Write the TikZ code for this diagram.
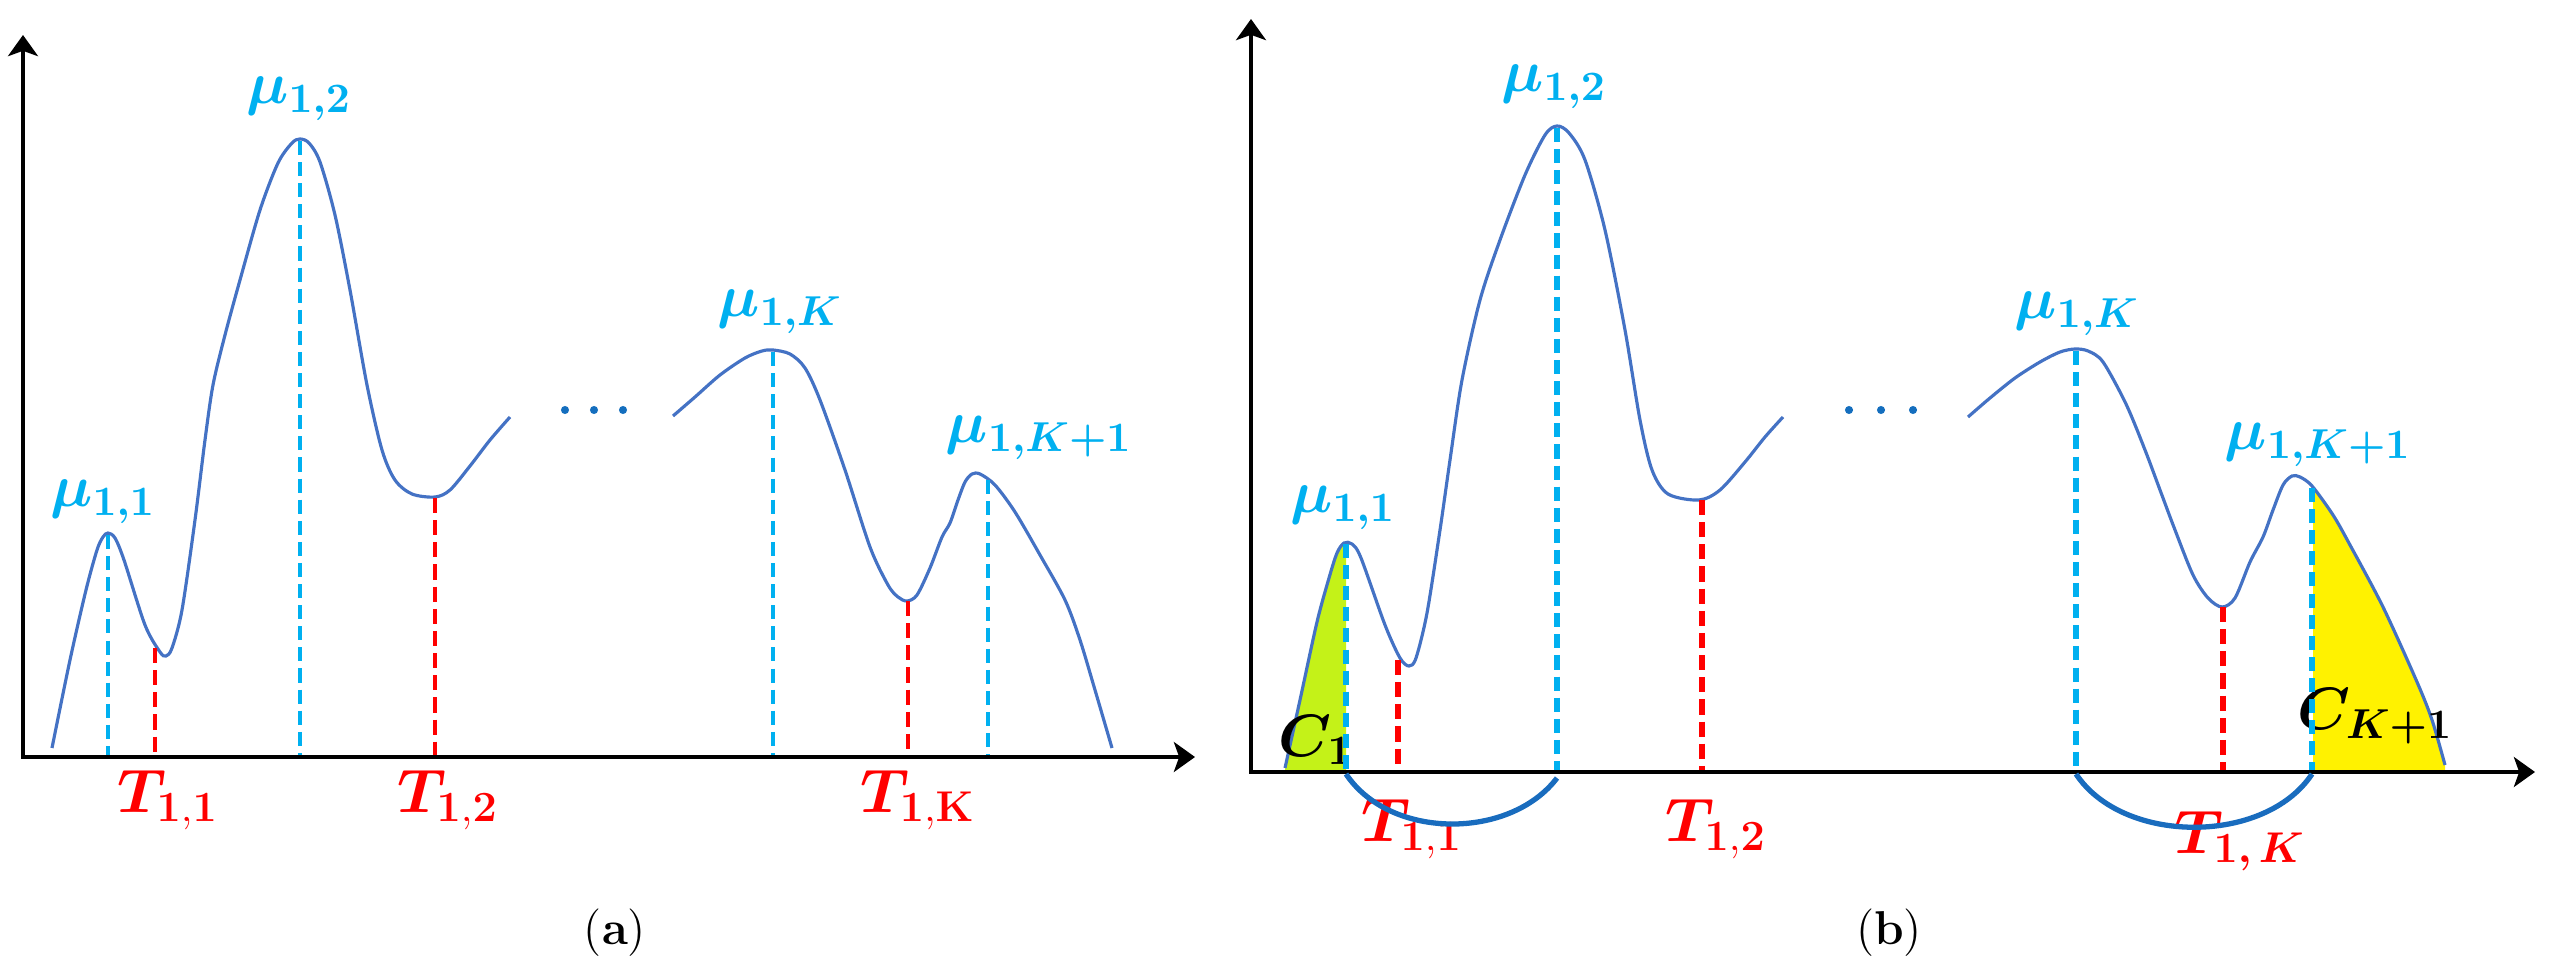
\RequirePackage{fix-cm}
\documentclass[tikz,border=0pt]{standalone}
\usepackage{bm}
\usetikzlibrary{arrows.meta}
\definecolor{curveblue}{RGB}{68,114,196}
\definecolor{mucyan}{RGB}{0,176,240}
\definecolor{tred}{RGB}{255,0,0}
\definecolor{arcblue}{RGB}{25,108,190}
\definecolor{dotblue}{RGB}{20,110,190}
\definecolor{cgreen}{RGB}{196,242,24}
\definecolor{cyellow}{RGB}{255,242,0}
\tikzset{
  axisline/.style={line width=1.4pt, line join=miter,
    {Stealth[length=6pt,width=8.5pt,inset=1.5pt]}-{Stealth[length=6pt,width=8.5pt,inset=1.5pt]}},
  curveline/.style={curveblue, line width=0.9pt},
  mudash/.style={mucyan, line width=1.4pt, dash pattern=on 4pt off 2pt},
  tdash/.style={tred, line width=1.4pt, dash pattern=on 4.3pt off 2pt},
  mulabel/.style={text=mucyan, font=\fontsize{17}{20}\selectfont, inner sep=0pt},
  tlabel/.style={text=tred, font=\fontsize{17.5}{20}\selectfont, inner sep=0pt},
  clabel/.style={text=black, font=\fontsize{17}{20}\selectfont, inner sep=0pt},
  arcline/.style={arcblue, line width=1.5pt},
  caplabel/.style={font=\fontsize{13.5}{15}\selectfont, inner sep=0pt}
}
\def\pAa{plot[smooth,tension=0.5] coordinates {(52,748) (70,660) (86,590) (97,550) (103,537) (108,533) (115,538) (124,560) (145,625) (160,652) (166,656) (172,648) (182,610) (195,520) (205,440) (213,385) (225,335) (240,280) (260,210) (278,163) (292,143) (300,139) (309,143) (320,162) (335,215) (350,290) (367,385) (382,450) (395,480) (412,494) (435,497) (450,490) (470,466) (490,440) (510,417)}}
\def\pAb{plot[smooth,tension=0.5] coordinates {(673,416) (695,397) (720,375) (745,358) (762,351) (773,350) (790,354) (805,368) (820,400) (845,470) (870,547) (888,585) (898,597) (907,601) (917,595) (930,568) (942,537) (950,523) (958,500) (965,482) (972,474) (980,474) (995,485) (1015,512) (1040,555) (1065,600) (1080,640) (1095,690) (1112,748)}}
\def\pBa{plot[smooth,tension=0.5] coordinates {(1285,768) (1300,700) (1317,622) (1329,578) (1337,553) (1344,543) (1352,544) (1361,558) (1385,625) (1400,658) (1409,666) (1416,658) (1427,613) (1440,530) (1450,460) (1462,380) (1480,300) (1500,240) (1525,175) (1545,135) (1557,126) (1569,133) (1585,160) (1605,230) (1625,330) (1640,420) (1652,470) (1668,494) (1699,500) (1720,490) (1745,462) (1765,437) (1783,417)}}
\def\pBb{plot[smooth,tension=0.5] coordinates {(1968,417) (1990,398) (2015,378) (2040,362) (2060,352) (2075,349) (2088,351) (2103,362) (2126,404) (2145,450) (2160,490) (2175,530) (2193,575) (2208,598) (2222,607) (2235,598) (2250,562) (2263,537) (2273,510) (2283,485) (2292,476) (2300,477) (2312,486) (2333,515) (2350,545) (2383,607) (2417,682) (2432,720) (2445,765)}}
\begin{document}
\begin{tikzpicture}[x=0.01cm,y=-0.01cm]
\useasboundingbox (0,0) rectangle (2551,970);
% ---------------- panel (a) ----------------
\coordinate (Ya) at (23,35);
\coordinate (Oa) at (23,757);
\coordinate (Xa) at (1195,757);
\draw[curveline] \pAa;
\draw[curveline] \pAb;
\draw[mudash] (108,535) -- (108,757);
\draw[mudash] (300,141) -- (300,757);
\draw[mudash] (773,352) -- (773,757);
\draw[mudash] (988,480) -- (988,757);
\draw[tdash] (155,648) -- (155,757);
\draw[tdash] (435,498) -- (435,757);
\draw[tdash] (908,601) -- (908,757);
\draw[axisline] (Ya) -- (Oa) -- (Xa);
\fill[dotblue] (565,410) circle (1.15pt);
\fill[dotblue] (594,410) circle (1.15pt);
\fill[dotblue] (623,410) circle (1.15pt);
\node[mulabel] (m11a) at (103,502) {$\bm{\mu_{1,1}}$};
\node[mulabel] (m12a) at (299,99) {$\bm{\mu_{1,2}}$};
\node[mulabel] (m1Ka) at (780,312) {$\bm{\mu_{1,K}}$};
\node[mulabel] (m1K1a) at (1039,438) {$\bm{\mu_{1,K+1}}$};
\node[tlabel] (t11a) at (168,800) {$\bm{T}_{\mathbf{1,1}}$};
\node[tlabel] (t12a) at (448,800) {$\bm{T}_{\mathbf{1,2}}$};
\node[tlabel] (t1Ka) at (918,800) {$\bm{T}_{\mathbf{1,K}}$};
\node[caplabel] (capa) at (615,933) {(\textbf{a})};
% ---------------- panel (b) ----------------
\coordinate (Yb) at (1251,19);
\coordinate (Ob) at (1251,772);
\coordinate (Xb) at (2535,772);
\begin{scope}
  \clip (1280,0) rectangle (1346,772);
  \fill[cgreen] \pBa -- (1783,772) -- (1285,772) -- cycle;
\end{scope}
\begin{scope}
  \clip (2313,0) rectangle (2500,772);
  \fill[cyellow] \pBb -- (2445,772) -- (1968,772) -- cycle;
\end{scope}
\draw[curveline] \pBa;
\draw[curveline] \pBb;
\node[clabel] (c1) at (1316,740) {$\bm{C_1}$};
\node[clabel] (cK1) at (2375,716) {$\bm{C_{K+1}}$};
\draw[mudash,line width=1.5pt] (1346,544) -- (1346,772);
\draw[mudash,line width=1.5pt] (1557,128) -- (1557,772);
\draw[mudash,line width=1.5pt] (2076,351) -- (2076,772);
\draw[mudash,line width=1.5pt] (2312,488) -- (2312,772);
\draw[tdash,line width=1.5pt] (1398,660) -- (1398,772);
\draw[tdash,line width=1.5pt] (1702,500) -- (1702,772);
\draw[tdash,line width=1.5pt] (2223,607) -- (2223,772);
\draw[axisline] (Yb) -- (Ob) -- (Xb);
\fill[dotblue] (1849,410) circle (1.15pt);
\fill[dotblue] (1881,410) circle (1.15pt);
\fill[dotblue] (1913,410) circle (1.15pt);
\node[mulabel] (m11b) at (1343,508) {$\bm{\mu_{1,1}}$};
\node[mulabel] (m12b) at (1554,87) {$\bm{\mu_{1,2}}$};
\node[mulabel] (m1Kb) at (2077,314) {$\bm{\mu_{1,K}}$};
\node[mulabel] (m1K1b) at (2318,445) {$\bm{\mu_{1,K+1}}$};
\node[tlabel] (t11b) at (1412,829) {$\bm{T}_{\mathbf{1,1}}$};
\node[tlabel] (t12b) at (1716,829) {$\bm{T}_{\mathbf{1,2}}$};
\node[tlabel] (t1Kb) at (2240,841) {$\bm{T}_{\bm{1,\,K}}$};
\coordinate (a1s) at (1346,774);
\coordinate (a1e) at (1557,778);
\coordinate (a2s) at (2076,774);
\coordinate (a2e) at (2312,774);
\draw[arcline] (a1s) .. controls (1390,840) and (1510,840) .. (a1e);
\draw[arcline] (a2s) .. controls (2123,845) and (2265,845) .. (a2e);
\node[caplabel] (capb) at (1889,933) {(\textbf{b})};
\end{tikzpicture}
\end{document}
